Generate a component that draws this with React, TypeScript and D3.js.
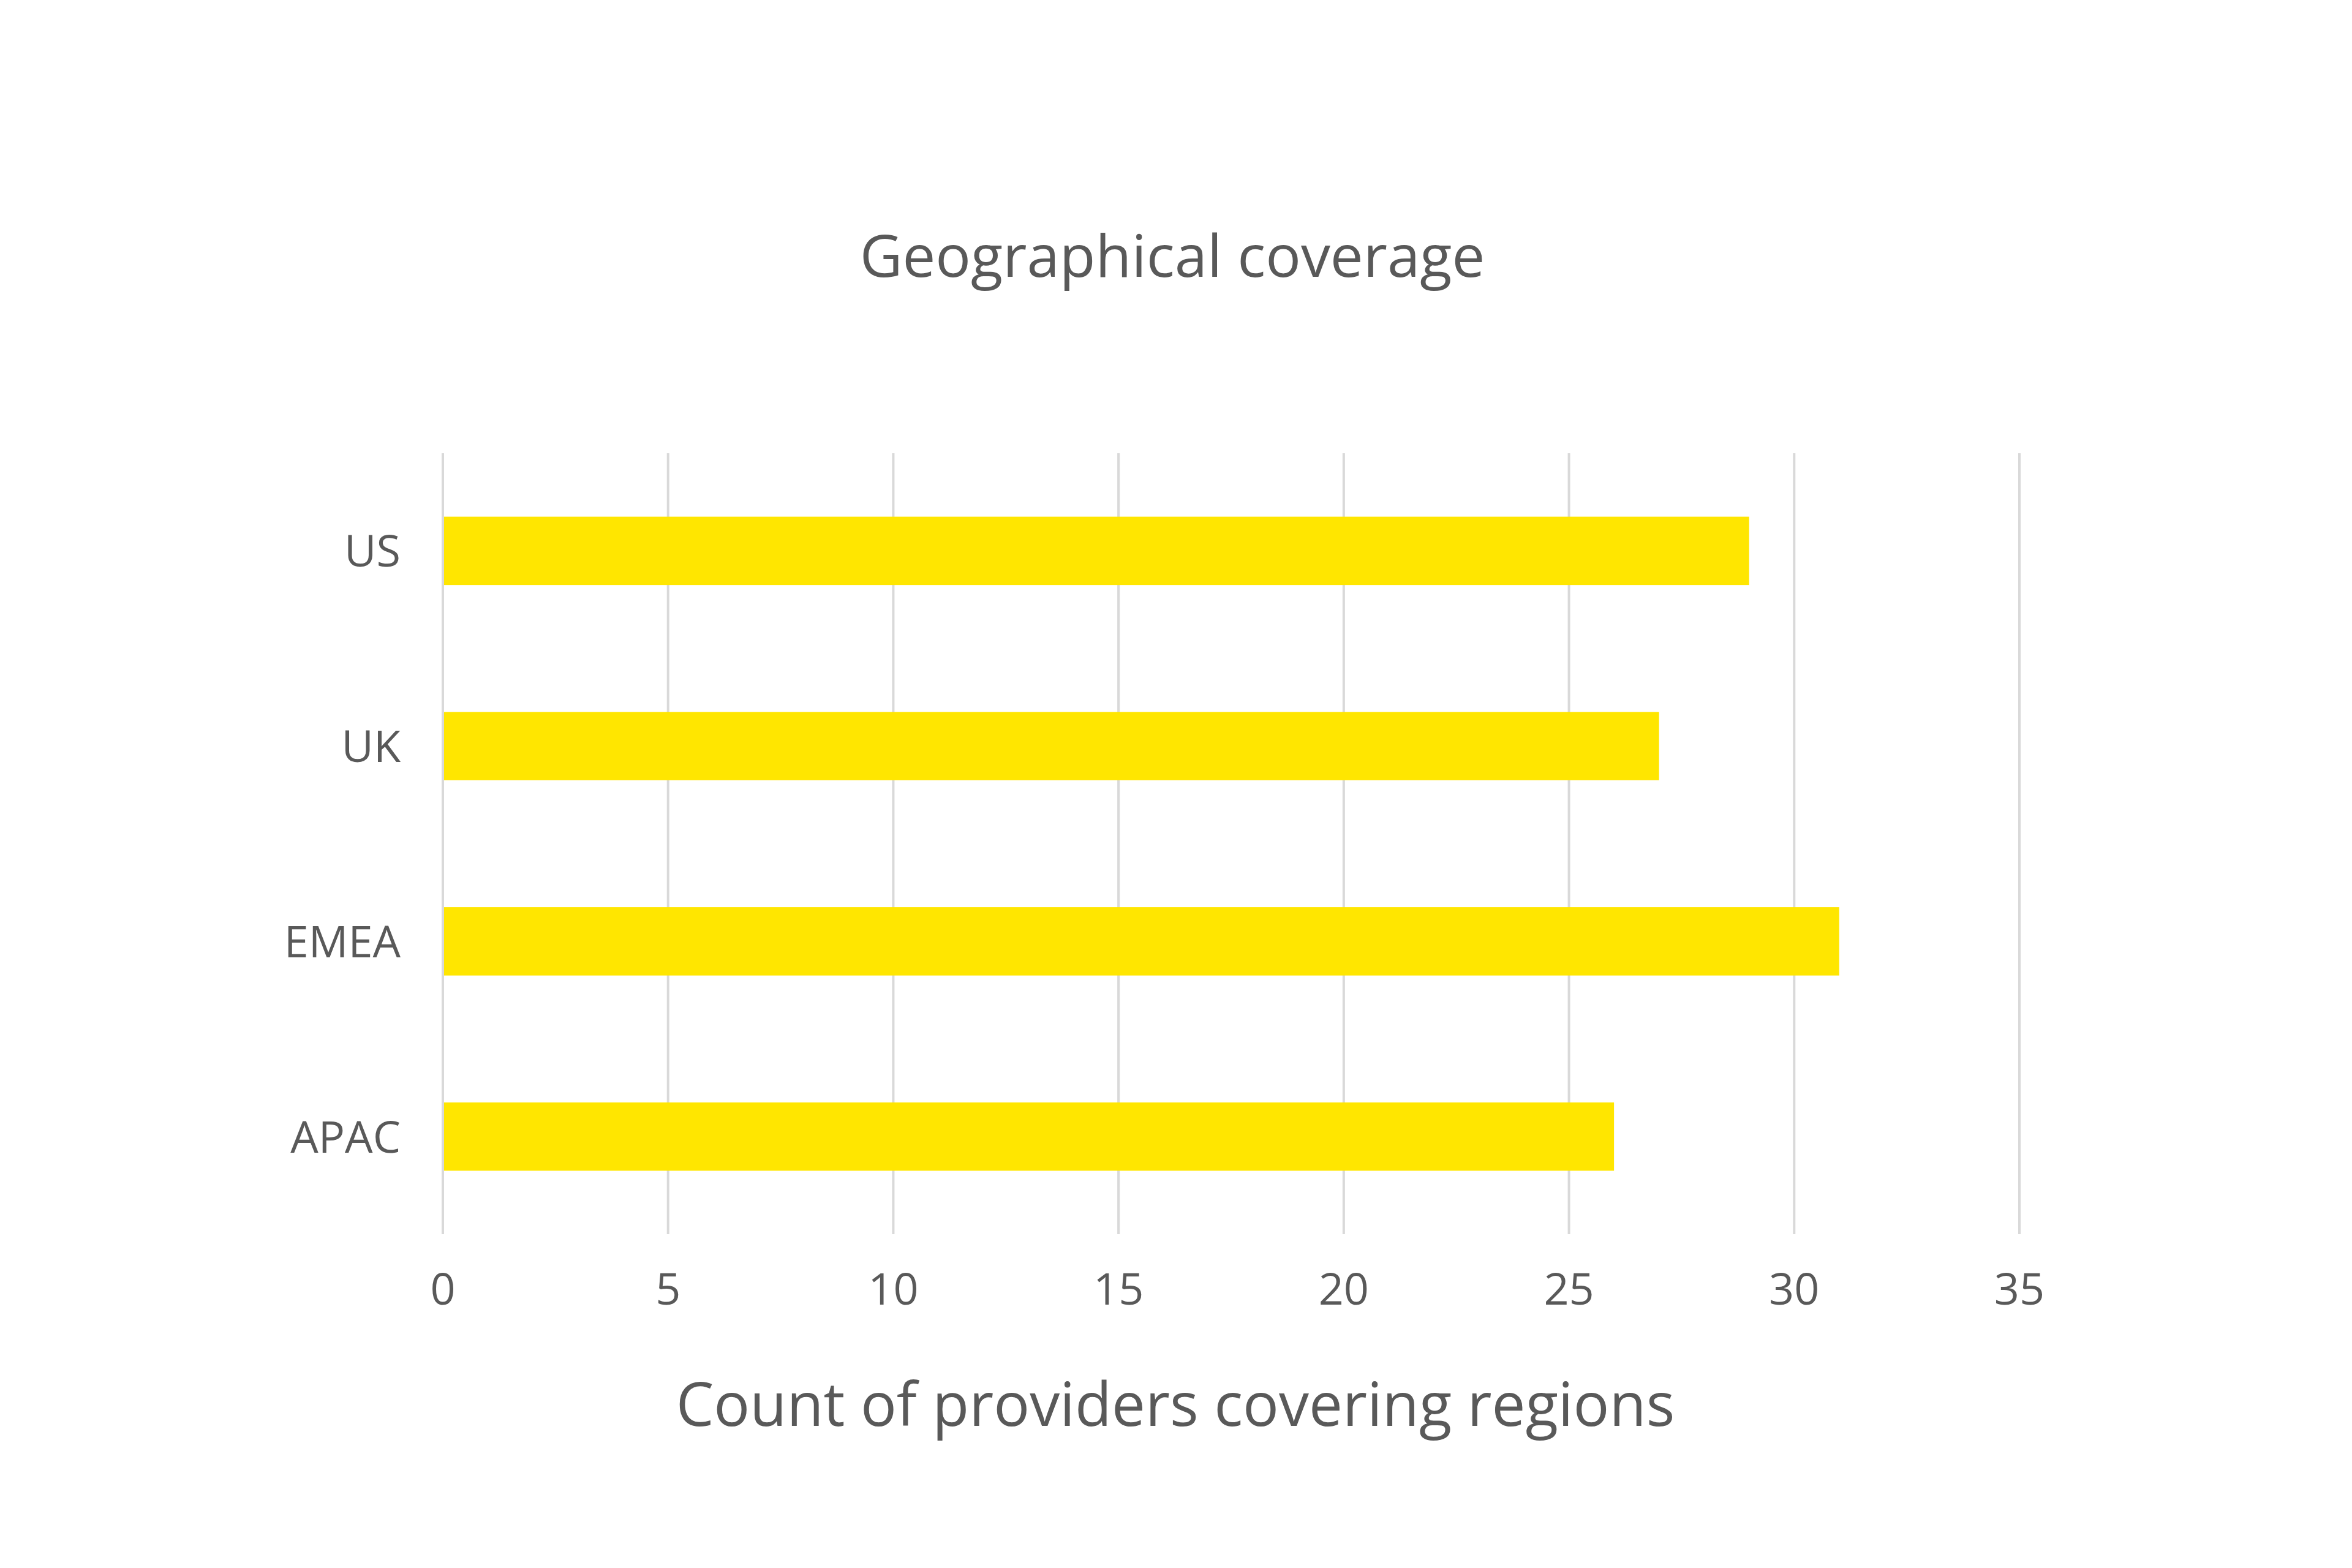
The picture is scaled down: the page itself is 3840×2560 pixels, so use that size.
import { useEffect } from "react"
import * as d3 from "d3"

const regions = ["US", "UK", "EMEA", "APAC"]
const providerCounts = [29, 27, 31, 26]
const xTicks = [0, 5, 10, 15, 20, 25, 30, 35]

const W = 3840
const H = 2560
const FONT = "'Open Sans', 'Noto Sans', sans-serif"
const TEXT = "#595959"
const GRID = "#d9d9d9"
const BAR = "#ffe600"

export default function App() {
  useEffect(() => {
    document.body.style.margin = "0"
  }, [])

  const margin = { top: 740, right: 543, bottom: 545, left: 723 }
  const x = d3.scaleLinear().domain([0, 35]).range([margin.left, W - margin.right])
  const y = d3.scaleBand().domain(regions).range([margin.top, H - margin.bottom]).paddingInner(0.65).paddingOuter(0.325)

  return (
    <svg width={W} height={H} style={{ display: "block", background: "#fff" }} fontFamily={FONT}>
      <text x={1914} y={452} textAnchor="middle" fontSize={96} fill={TEXT}>Geographical coverage</text>

      {/* grid */}
      <g>
        {xTicks.map((t) => (
          <line key={t} x1={x(t)} x2={x(t)} y1={margin.top} y2={H - margin.bottom} stroke={GRID} strokeWidth={4} />
        ))}
      </g>

      <g>
        {regions.map((r, i) => (
          <rect key={r} x={x(0) + 2} y={y(r)} width={x(providerCounts[i]) - x(0) - 2} height={y.bandwidth()} fill={BAR} />
        ))}
      </g>

      <g>
        {regions.map((r) => (
          <text key={r} x={654} y={(y(r) ?? 0) + y.bandwidth() / 2} dy="0.36em" textAnchor="end" fontSize={72} fill={TEXT}>{r}</text>
        ))}
      </g>

      <g>
        {xTicks.map((t) => (
          <text key={t} x={x(t)} y={2130} textAnchor="middle" fontSize={72} fill={TEXT}>{t}</text>
        ))}
      </g>

      <text x={1919} y={2328} textAnchor="middle" fontSize={98} fill={TEXT}>Count of providers covering regions</text>
    </svg>
  )
}
